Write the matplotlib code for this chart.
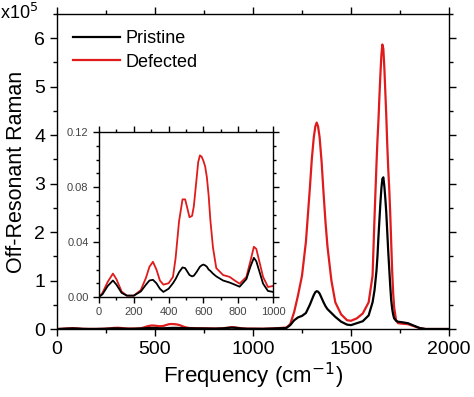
import matplotlib
matplotlib.use("Agg")
import matplotlib.pyplot as plt
from matplotlib.ticker import MultipleLocator, FormatStrFormatter

plt.rcParams['font.family'] = ['Liberation Sans', 'DejaVu Sans']

# ---- Low-frequency region (0-1000 cm^-1), units of 1e5 ----
low_freq = [0, 20, 50, 80, 100, 130, 160, 200, 240, 270, 290, 310, 330, 350, 370, 400,
            425, 440, 460, 480, 495, 505, 520, 535, 545, 560, 570, 580, 590, 600, 610,
            620, 630, 640, 655, 674, 713, 751, 780, 808, 847, 870, 890, 904, 943, 971, 1000]
low_pristine = [0.000, 0.002, 0.008, 0.012, 0.009, 0.003, 0.001, 0.001, 0.004, 0.009,
                0.012, 0.0125, 0.010, 0.006, 0.0037, 0.006, 0.010, 0.013, 0.018, 0.0215,
                0.021, 0.019, 0.016, 0.015, 0.0155, 0.018, 0.020, 0.022, 0.023, 0.0236,
                0.023, 0.022, 0.020, 0.019, 0.017, 0.015, 0.012, 0.0105, 0.009, 0.0075,
                0.013, 0.022, 0.0285, 0.026, 0.0097, 0.0044, 0.0037]
low_defected = [0.000, 0.003, 0.011, 0.017, 0.013, 0.004, 0.001, 0.001, 0.005, 0.014,
                0.022, 0.0256, 0.020, 0.012, 0.009, 0.010, 0.0146, 0.028, 0.055, 0.071,
                0.071, 0.066, 0.058, 0.059, 0.066, 0.085, 0.098, 0.103, 0.102, 0.099,
                0.095, 0.087, 0.074, 0.056, 0.036, 0.021, 0.016, 0.0146, 0.012, 0.0097,
                0.0146, 0.026, 0.0365, 0.035, 0.0146, 0.0073, 0.008]

# ---- High-frequency region (1000-2000 cm^-1), units of 1e5 ----
high_freq = [1050, 1100, 1170, 1190, 1210, 1230, 1250, 1270, 1290, 1300, 1310, 1318,
             1325, 1332, 1340, 1350, 1360, 1370, 1380, 1400, 1420, 1450, 1480, 1500,
             1530, 1560, 1590, 1610, 1620, 1630, 1635, 1640, 1645, 1650, 1655, 1660,
             1665, 1670, 1675, 1680, 1685, 1690, 1695, 1700, 1705, 1710, 1715, 1720,
             1730, 1740, 1760, 1790, 1820, 1850, 1880, 2000]
high_pristine = [0.003, 0.01, 0.02, 0.08, 0.18, 0.24, 0.27, 0.33, 0.50, 0.60, 0.70, 0.76,
                 0.78, 0.77, 0.73, 0.64, 0.55, 0.47, 0.41, 0.33, 0.25, 0.15, 0.09, 0.08,
                 0.12, 0.16, 0.28, 0.55, 0.80, 1.20, 1.50, 1.90, 2.25, 2.60, 2.90, 3.10,
                 3.13, 2.95, 2.70, 2.40, 2.00, 1.60, 1.25, 0.90, 0.60, 0.42, 0.30, 0.22,
                 0.17, 0.15, 0.14, 0.12, 0.07, 0.02, 0.0, 0.0]
high_defected = [0.005, 0.01, 0.03, 0.10, 0.35, 0.70, 1.10, 1.80, 2.90, 3.50, 3.95, 4.18,
                 4.26, 4.18, 3.95, 3.45, 2.80, 2.20, 1.70, 1.00, 0.55, 0.30, 0.18, 0.17,
                 0.22, 0.32, 0.55, 1.10, 2.30, 3.40, 3.90, 4.30, 4.80, 5.25, 5.65, 5.87,
                 5.78, 5.40, 4.90, 4.40, 3.80, 3.30, 2.90, 2.40, 1.80, 1.20, 0.75, 0.45,
                 0.18, 0.12, 0.11, 0.10, 0.06, 0.02, 0.0, 0.0]

freq = low_freq + high_freq
pristine = low_pristine + high_pristine
defected = low_defected + high_defected

RED = '#e01b1b'

fig = plt.figure(figsize=(4.74, 3.97), dpi=100)
ax = fig.add_axes([57/474, 1-329/397, 392/474, 315/397])
ax.plot(freq, pristine, color='black', lw=1.6, label='Pristine', zorder=3)
ax.plot(freq, defected, color=RED, lw=1.6, label='Defected', zorder=2)
ax.set_xlim(0, 2000)
ax.set_ylim(0, 6.5)
ax.xaxis.set_major_locator(MultipleLocator(500))
ax.xaxis.set_minor_locator(MultipleLocator(250))
ax.yaxis.set_major_locator(MultipleLocator(1))
ax.yaxis.set_minor_locator(MultipleLocator(0.5))
ax.tick_params(which='both', direction='out', top=True, right=True, labelsize=14, width=1)
ax.tick_params(which='major', length=5)
ax.tick_params(which='minor', length=3)
for s in ax.spines.values():
    s.set_linewidth(1)
ax.set_xlabel('Frequency (cm$^{-1}$)', fontsize=16, labelpad=2)
ax.set_ylabel('Off-Resonant Raman', fontsize=15.5, labelpad=5)
fig.text(0.0, 0.952, r'x10$^5$', fontsize=13)
ax.legend(loc='upper left', frameon=False, fontsize=13, handlelength=2.6,
          handletextpad=0.3, labelspacing=0.35, bbox_to_anchor=(0.0, 1.0))

ins = fig.add_axes([99/474, 1-297/397, 174/474, 165/397])
ins.plot(low_freq, low_defected, color=RED, lw=1.3, zorder=2)
ins.plot(low_freq, low_pristine, color='black', lw=1.3, zorder=3)
ins.set_xlim(0, 1000)
ins.set_ylim(0, 0.12)
ins.xaxis.set_major_locator(MultipleLocator(200))
ins.xaxis.set_minor_locator(MultipleLocator(100))
ins.yaxis.set_major_locator(MultipleLocator(0.04))
ins.yaxis.set_minor_locator(MultipleLocator(0.01))
ins.yaxis.set_major_formatter(FormatStrFormatter('%.2f'))
ins.tick_params(which='both', direction='out', top=True, right=True, labelsize=8,
                labelcolor='#444444', width=1)
ins.tick_params(which='major', length=4)
ins.tick_params(which='minor', length=2)
for s in ins.spines.values():
    s.set_linewidth(1)

fig.savefig('out.png', dpi=100)
